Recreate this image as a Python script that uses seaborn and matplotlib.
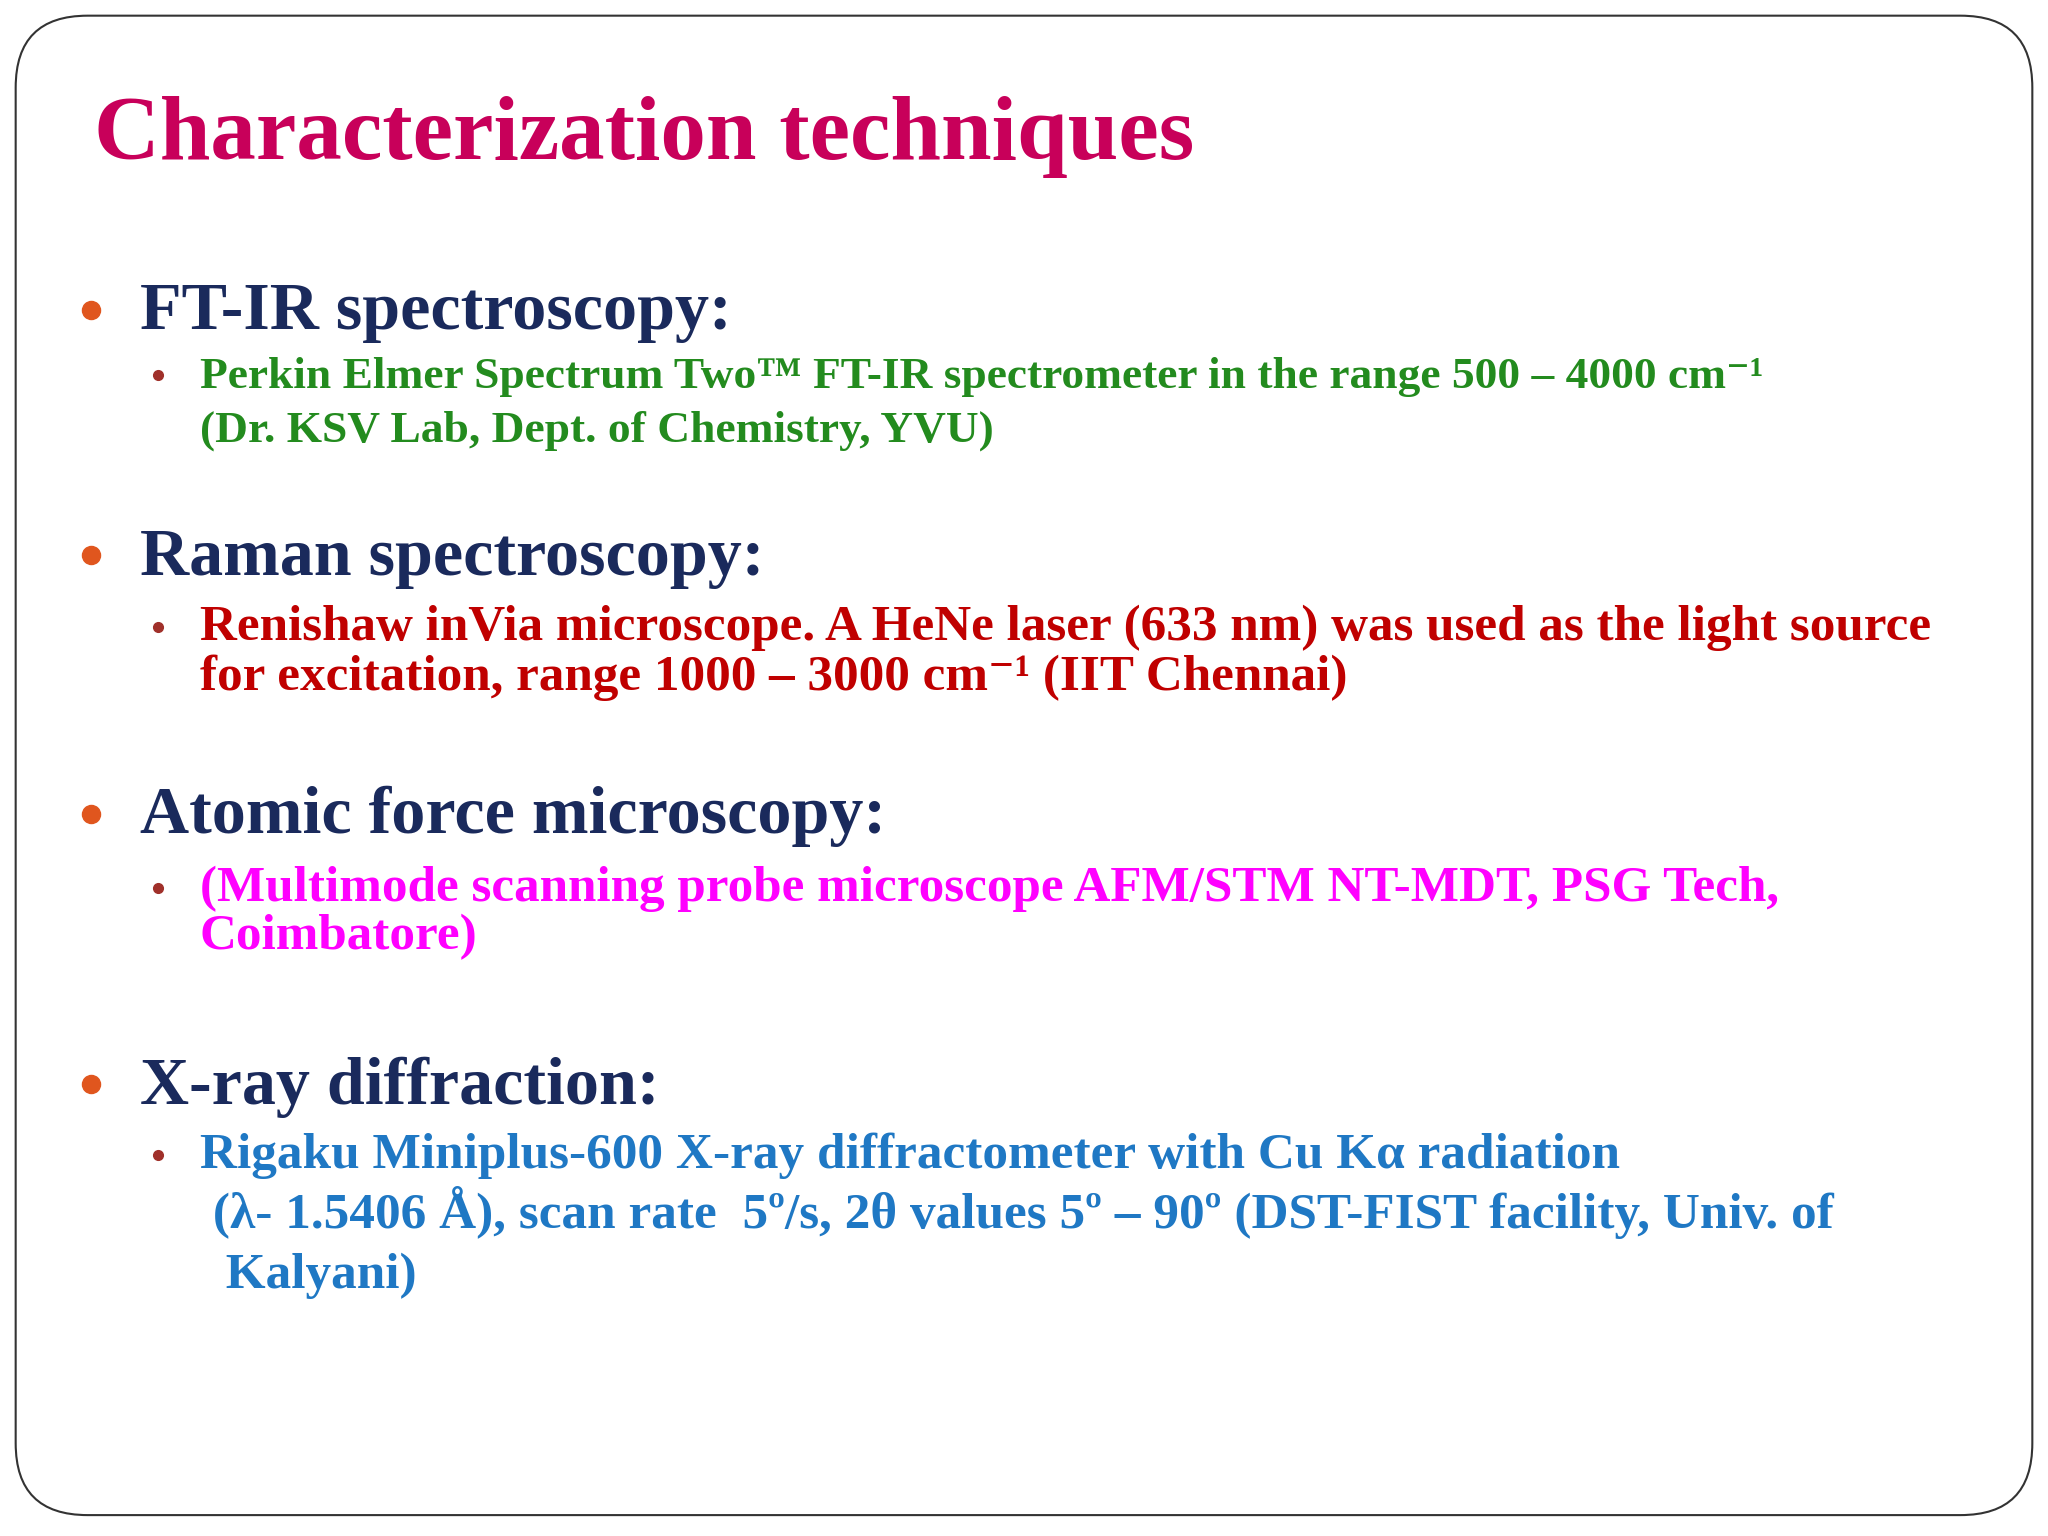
import matplotlib
matplotlib.use("Agg")
import matplotlib.pyplot as plt
import seaborn as sns
from matplotlib.patches import FancyBboxPatch

sns.set_theme(style="white")
plt.rcParams['font.family'] = ['Liberation Serif', 'DejaVu Serif']

title = "Characterization techniques"
headings = ["FT-IR spectroscopy:", "Raman spectroscopy:", "Atomic force microscopy:", "X-ray diffraction:"]
details = [
    ["Perkin Elmer Spectrum Two\u2122 FT-IR spectrometer in the range 500 \u2013 4000 cm\u207b\u00b9",
     "(Dr. KSV Lab, Dept. of Chemistry, YVU)"],
    ["Renishaw inVia microscope. A HeNe laser (633 nm) was used as the light source",
     "for excitation, range 1000 \u2013 3000 cm\u207b\u00b9 (IIT Chennai)"],
    ["(Multimode scanning probe microscope AFM/STM NT-MDT, PSG Tech,",
     "Coimbatore)"],
    ["Rigaku Miniplus-600 X-ray diffractometer with Cu K\u03b1 radiation",
     " (\u03bb- 1.5406 \u00c5), scan rate  5\u00ba/s, 2\u03b8 values 5\u00ba \u2013 90\u00ba (DST-FIST facility, Univ. of",
     "  Kalyani)"],
]
detail_colors = ["#238B1E", "#C00000", "#FF00FF", "#1F78C4"]
detail_sizes = [32.7, 36.8, 36.8, 36.9]

head_y = [252, 440, 638, 845]
detail_y = [[297, 338], [490, 528], [690, 727], [894, 940, 986]]

fig = plt.figure(figsize=(20.48, 15.36), dpi=100)
ax = fig.add_axes([0, 0, 1, 1])
ax.set_xlim(0, 1568); ax.set_ylim(1176, 0); ax.axis("off")
ax.add_patch(FancyBboxPatch((12, 12), 1544, 1148, boxstyle="round,pad=0,rounding_size=55",
                            fc="white", ec="#333333", lw=1.5))
ax.text(72, 122, title, fontsize=65.5, fontweight="bold", color="#C8005A", va="baseline")
for h, hy, det, dy, c, fs in zip(headings, head_y, details, detail_y, detail_colors, detail_sizes):
    ax.plot(70, hy - 15, "o", ms=13, color="#E0561E")
    ax.text(107, hy, h, fontsize=49, fontweight="bold", color="#1A2A5C", va="baseline")
    ax.plot(121, dy[0] - 10, "o", ms=7, color="#A0302A")
    for line, ly in zip(det, dy):
        ax.text(153, ly, line, fontsize=fs, fontweight="bold", color=c, va="baseline")
fig.savefig("out.png", dpi=100)
